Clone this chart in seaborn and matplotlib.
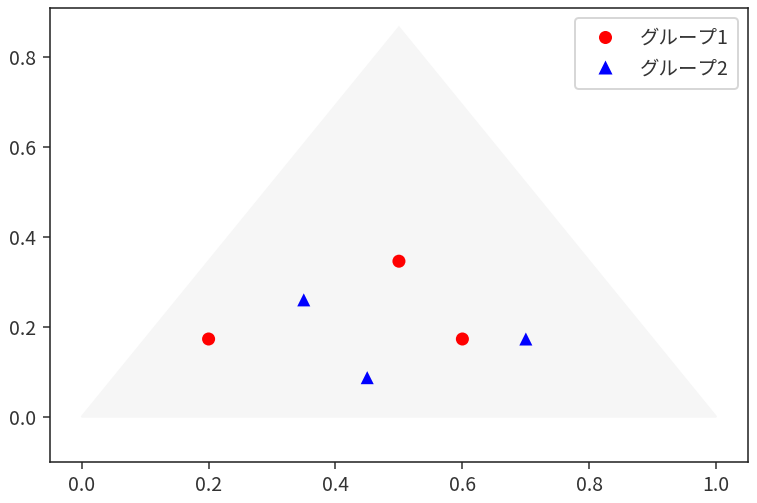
import matplotlib
matplotlib.use("Agg")
import matplotlib.pyplot as plt
import seaborn as sns
import pandas as pd
import numpy as np

# Data
triangle_x = [0.0, 1.0, 0.5]
triangle_y = [0.0, 0.0, 0.866]
group1_x = [0.2, 0.5, 0.6]
group1_y = [0.173, 0.346, 0.173]
group2_x = [0.35, 0.45, 0.7]
group2_y = [0.26, 0.087, 0.173]
labels = ["グループ1", "グループ2"]

sns.set_style("ticks")
plt.rcParams['font.family'] = ['Noto Sans CJK JP', 'DejaVu Sans']

DPI = 140
fig = plt.figure(figsize=(757 / DPI, 503 / DPI), dpi=DPI)
ax = fig.add_axes([0.066, 0.082, 0.922, 0.902])

ax.fill(triangle_x, triangle_y, color='#f6f6f6', zorder=0)

df = pd.DataFrame({
    'x': group1_x + group2_x,
    'y': group1_y + group2_y,
    'g': [labels[0]] * len(group1_x) + [labels[1]] * len(group2_x),
})
sns.scatterplot(data=df, x='x', y='y', hue='g', style='g',
                palette={labels[0]: 'red', labels[1]: 'blue'},
                markers={labels[0]: 'o', labels[1]: '^'},
                s=45, edgecolor='none', ax=ax, zorder=3)

ax.set_xlim(-0.05, 1.05)
ax.set_ylim(-0.1, 0.909)
ax.set_xticks([0.0, 0.2, 0.4, 0.6, 0.8, 1.0])
ax.set_yticks([0.0, 0.2, 0.4, 0.6, 0.8])
ax.set_xlabel('')
ax.set_ylabel('')
ax.tick_params(labelsize=10, colors='#333333', length=3.5, width=0.8)
for sp in ax.spines.values():
    sp.set_color('#222222')
    sp.set_linewidth(0.8)
leg = ax.legend(loc='upper right', fontsize=10, title=None, borderpad=0.5)
for t in leg.get_texts():
    t.set_color('#333333')

fig.savefig('out.png', dpi=DPI)
